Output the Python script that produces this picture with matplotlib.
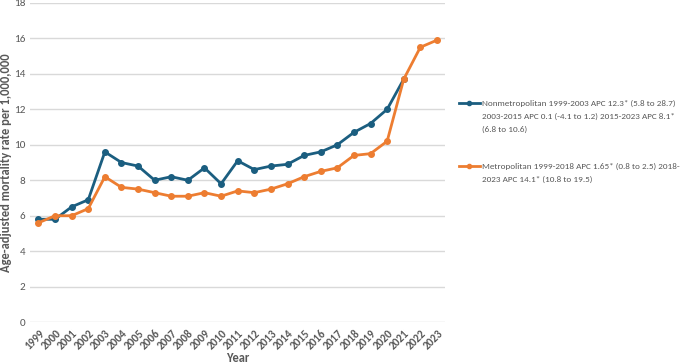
import numpy as np
import matplotlib.pyplot as plt
from matplotlib.lines import Line2D
from matplotlib import font_manager as fm

years = list(range(1999, 2024))
nonmetro = [5.8, 5.8, 6.5, 6.9, 9.6, 9.0, 8.8, 8.0, 8.2, 8.0, 8.7, 7.8, 9.1,
            8.6, 8.8, 8.9, 9.4, 9.6, 10.0, 10.7, 11.2, 12.0, 13.7]
metro = [5.6, 6.0, 6.0, 6.4, 8.2, 7.6, 7.5, 7.3, 7.1, 7.1, 7.3, 7.1, 7.4,
         7.3, 7.5, 7.8, 8.2, 8.5, 8.7, 9.4, 9.5, 10.2, 13.7, 15.5, 15.9]
label_nonmetro = ["Nonmetropolitan 1999-2003 APC 12.3* (5.8 to 28.7)",
                  "2003-2015 APC 0.1 (-4.1 to 1.2) 2015-2023 APC 8.1*",
                  "(6.8 to 10.6)"]
label_metro = ["Metropolitan 1999-2018 APC 1.65* (0.8 to 2.5) 2018-",
               "2023 APC 14.1* (10.8 to 19.5)"]

# pick a narrow humanist face if one is installed (reference uses Calibri)
available = {f.name for f in fm.fontManager.ttflist}
main_font = 'Lato'
for name in ['Carlito', 'Source Sans 3', 'Source Sans Pro', 'PT Sans']:
    if name in available:
        main_font = name
        break
plt.rcParams['font.family'] = [main_font, 'DejaVu Sans']
grey = '#595959'
blue = '#1b5e80'
orange = '#ed7d31'

fig = plt.figure(figsize=(6.85, 3.64), dpi=100)
ax = fig.add_axes([0.044, 0.115, 0.606, 0.877])

x = np.arange(len(years))
ax.plot(x[:len(nonmetro)], nonmetro, color=blue, lw=2, marker='o', ms=4)
ax.plot(x, metro, color=orange, lw=2, marker='o', ms=4)

ax.set_xlim(-0.5, len(years) - 0.5)
ax.set_ylim(0, 18)
ax.set_yticks(range(0, 19, 2))
ax.set_xticks(x)
ax.set_xticklabels(years, rotation=45, ha='right', rotation_mode='anchor',
                   fontweight='bold')
ax.tick_params(axis='both', length=0, labelsize=8, labelcolor=grey)
ax.tick_params(axis='x', pad=4)
ax.grid(axis='y', color='#d9d9d9', lw=1)
ax.set_axisbelow(True)
for s in ax.spines.values():
    s.set_visible(False)

ax.set_xlabel('Year', fontsize=9, fontweight='bold', color=grey, labelpad=0)
ax.set_ylabel('Age-adjusted mortality rate per 1,000,000', fontsize=9,
              fontweight='bold', color=grey)
ax.yaxis.set_label_coords(-0.043, 0.5)

# size the legend text so its longest line fits the ~196 px the reference uses
renderer = fig.canvas.get_renderer()
probe = fig.text(0, 0, label_nonmetro[0], fontsize=10)
w10 = probe.get_window_extent(renderer).width
probe.remove()
leg_size = min(8.5, 10 * 194 / w10)
leg_px = leg_size * 100 / 72

# legend: marker sits beside the first line of each wrapped label
blank = Line2D([], [], color='none')
h_blue = Line2D([], [], color=blue, lw=2, marker='o', ms=3)
h_orange = Line2D([], [], color=orange, lw=2, marker='o', ms=3)
handles = [h_blue, blank, blank, blank, blank, h_orange, blank]
labels = label_nonmetro + [' ', ' '] + label_metro
ax.legend(handles, labels, loc='upper left', bbox_to_anchor=(0.67, 0.726),
          bbox_transform=fig.transFigure, frameon=False, fontsize=leg_size,
          labelcolor=grey, handlelength=21 / leg_px,
          handletextpad=2 / leg_px, labelspacing=12 / leg_px - 0.75,
          borderpad=0, borderaxespad=0)

fig.savefig('out.png', dpi=100)
